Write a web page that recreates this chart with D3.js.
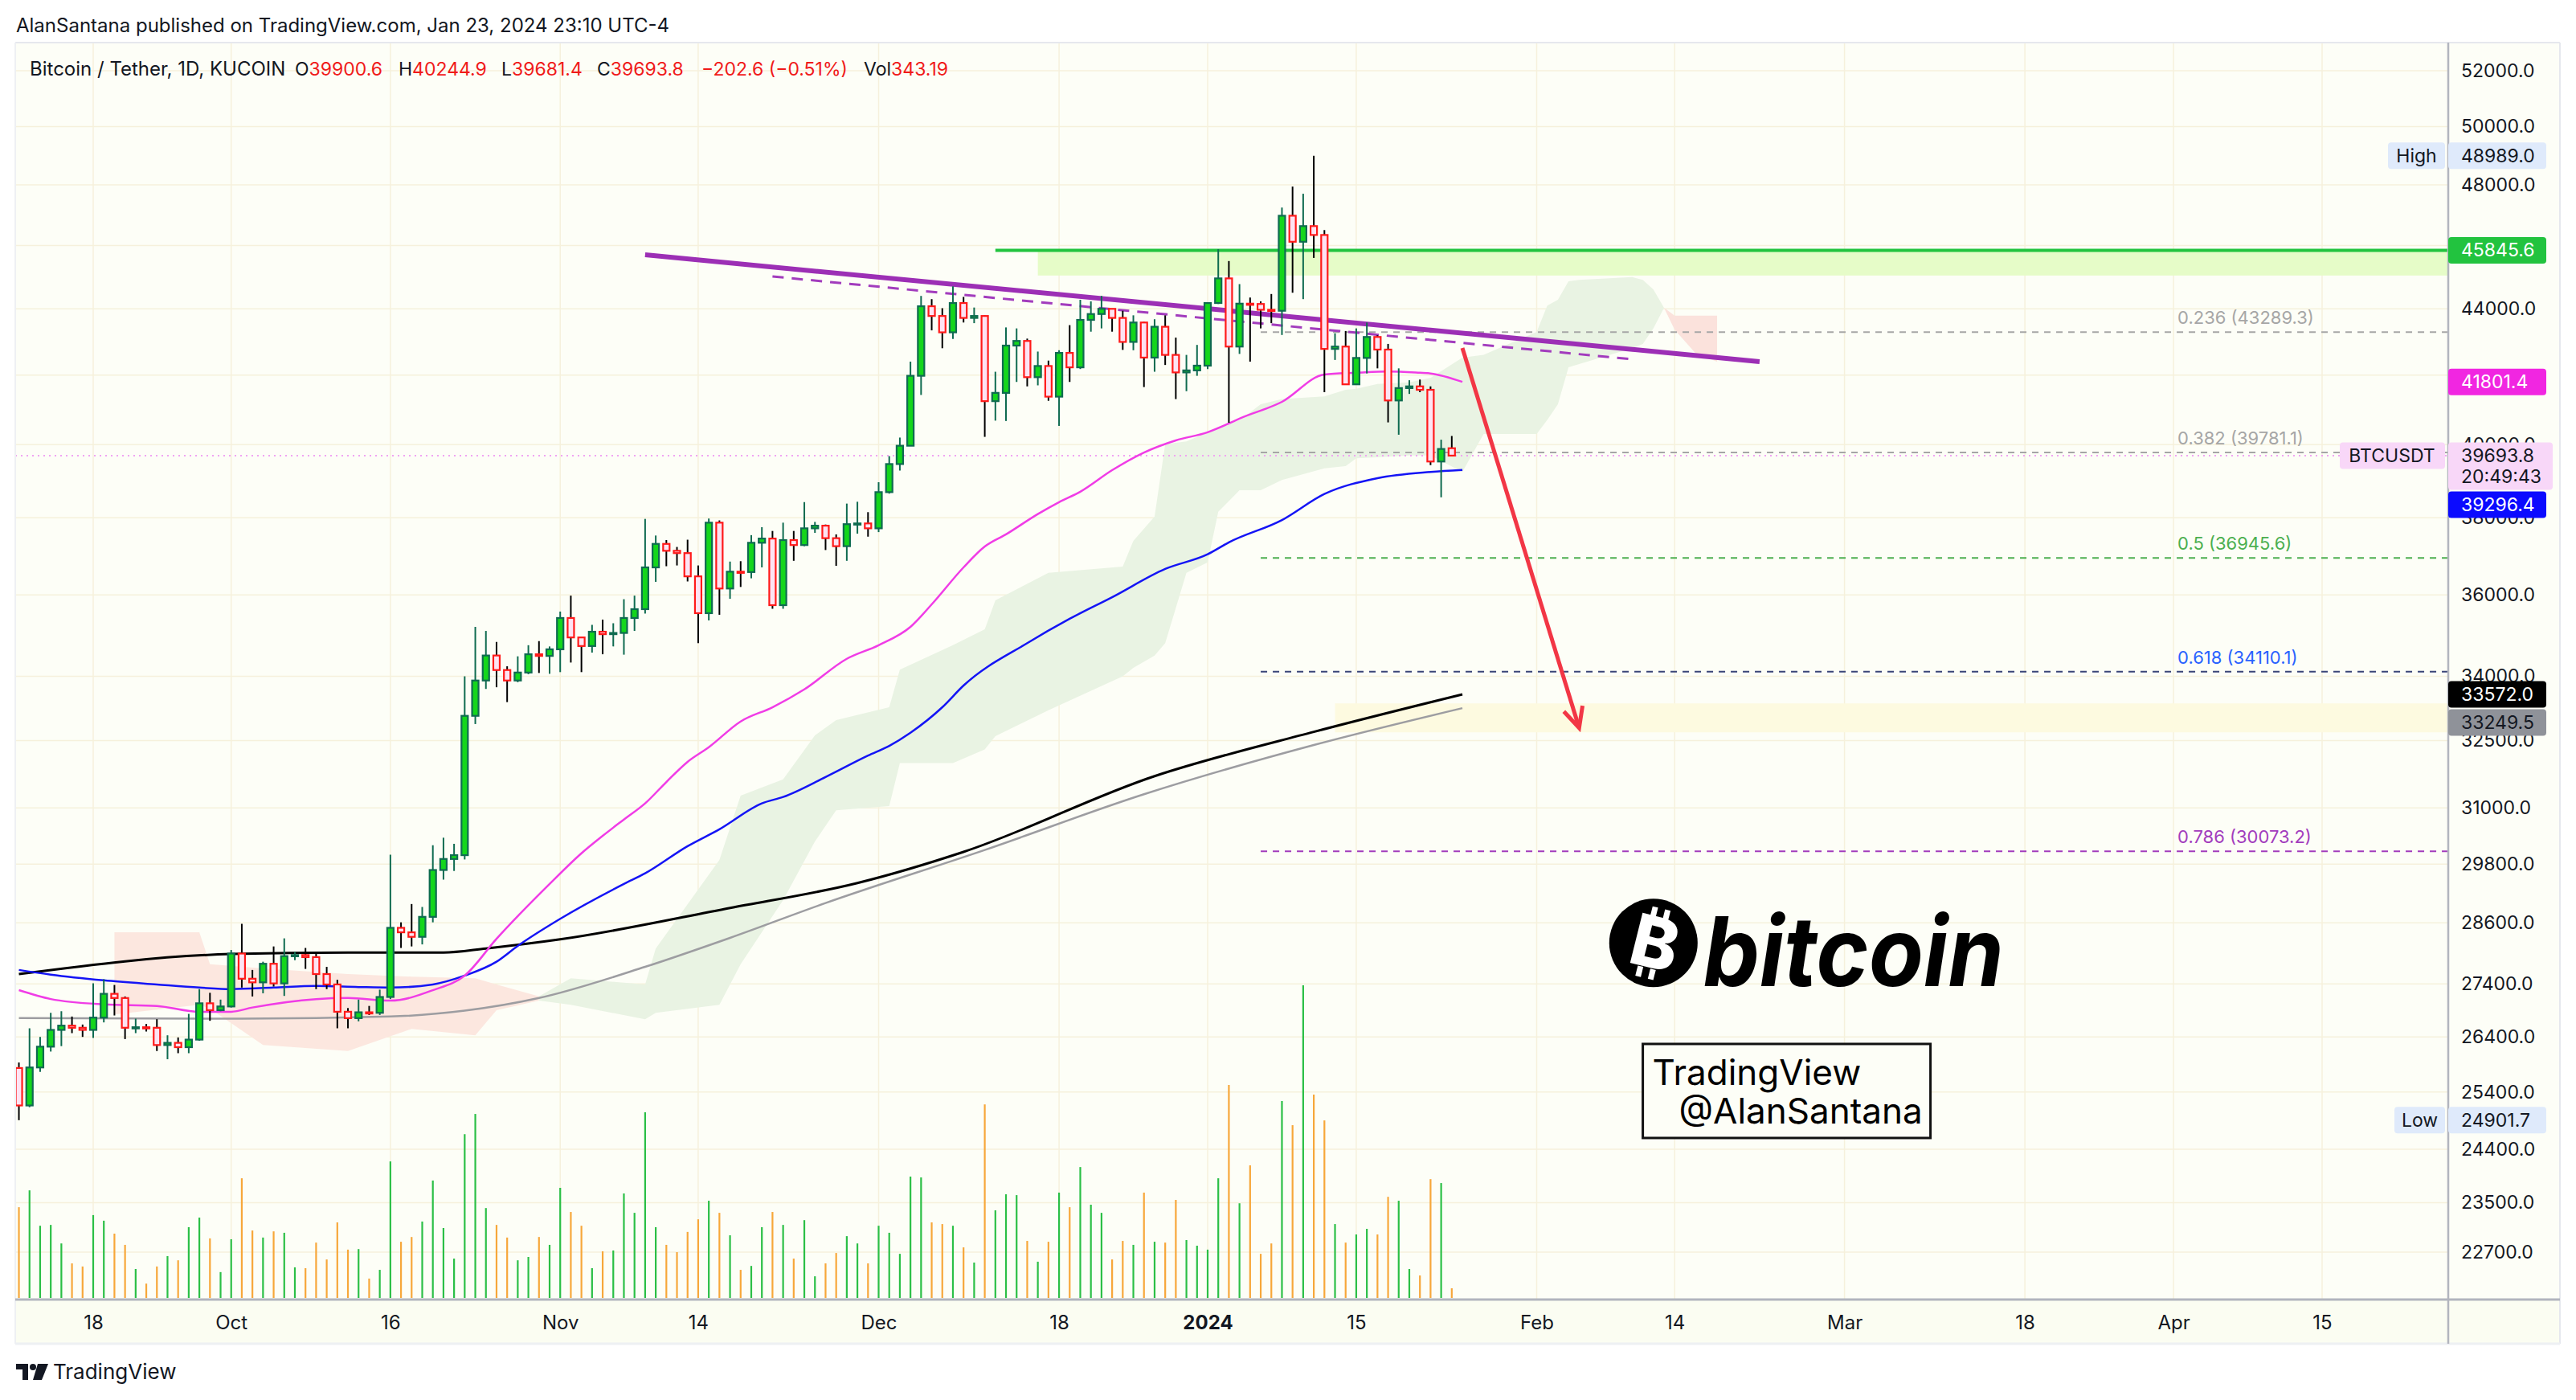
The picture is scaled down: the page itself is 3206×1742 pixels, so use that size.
<!DOCTYPE html>
<html><head><meta charset="utf-8">
<script src="https://cdn.jsdelivr.net/npm/d3@7"></script>
<style>
html,body{margin:0;padding:0;background:#fff;}
svg{display:block;}
text{font-family:Inter,"Noto Sans",sans-serif;}
</style></head><body>
<svg id="chart" width="3206" height="1742"></svg>
<script>
// ---------------- DATA ----------------
const firstDay = "2023-09-11";
const opens = [25830,25160,25840,26220,26530,26610,26570,26530,26760,27210,27130,26570,26580,26570,26250,26290,26210,26350,27030,26900,
26970,27990,27500,27430,27790,27410,27940,27960,27920,27590,27390,26870,26750,26860,26850,27150,28500,28410,28320,28720,29680,29910,29990,33070,33900,34500,34150,33900,34090,34530,34490,
34650,35420,34940,34730,35080,35020,35050,35420,35640,36700,37310,37130,37070,36470,35540,37870,36160,36590,36580,37340,37450,35740,37410,37280,37720,37790,37460,37250,37830,37850,
37720,38690,39460,39970,41980,44080,43780,43280,44180,43720,43780,41240,41480,42880,43020,41940,42270,41370,42660,42230,43660,43840,44000,43720,42990,43580,42520,43450,42600,42080,42140,
42280,44180,44950,42850,44160,44150,43970,43940,46970,46120,46630,46340,42780,42850,41730,42510,43140,42760,41260,41620,41670,41570,39530,39900.6];
const highs = [25930,26560,26400,26850,26880,26780,26630,27410,27490,27380,27160,26740,26640,26730,26430,26390,26830,27300,27230,27100,
28060,28580,27670,27830,28130,28290,28020,28100,27990,27730,27480,26940,27100,26980,27290,30000,28610,28980,28920,30200,30360,30230,34000,35200,35100,34830,34240,34480,34750,34850,34720,
35580,35980,34940,35250,35380,35290,35890,35980,37970,37530,37410,37230,37420,36750,37980,37930,36850,36860,37540,37750,37650,37870,37650,38420,37890,37820,37560,38380,38430,38150,
38960,39680,40200,42400,44400,44300,44020,44700,44370,44040,43800,42100,43430,43400,43090,42700,42430,42740,43500,44280,44230,44400,44000,43940,43800,43600,43680,43800,43120,42600,42900,
44200,45880,45500,44770,44350,44230,44460,47240,47940,47700,48989,46500,43250,43320,43400,43580,43190,42930,42200,41850,41870,41670,40140,40244.9];
const lows = [24901.7,25130,25760,26130,26230,26470,26400,26380,26670,26800,26360,26470,26500,26140,25990,26100,26100,26330,26700,26880,
26950,27330,27160,27220,27350,27170,27860,27690,27300,27300,26560,26560,26690,26810,26810,27110,28100,28130,28170,28610,29480,29660,29900,32880,33700,33740,33390,33860,34050,34080,34060,
34100,34330,34100,34570,34530,34720,34520,35100,35530,36330,36730,36750,36340,34800,35360,35500,35900,36200,36420,36700,35650,35650,36870,37250,37600,37150,36740,36870,37580,37500,
37620,38650,39280,39970,41420,43340,42800,43080,43580,43560,40220,40680,40670,41800,41670,41700,41250,40530,41800,42180,43300,43400,43300,42750,42740,41650,42100,42300,41300,41530,41980,
42180,44150,40620,42630,42400,43400,43560,43200,44500,44300,45600,41500,42450,41720,41720,42050,42200,40630,40280,41450,41500,39430,38550,39681.4];
const closes = [25160,25840,26220,26530,26610,26570,26530,26760,27210,27130,26570,26580,26570,26250,26290,26210,26350,27030,26900,26970,
27990,27500,27430,27790,27410,27940,27960,27920,27590,27390,26870,26750,26860,26850,27150,28500,28410,28320,28720,29680,29910,29990,33070,33900,34500,34150,33900,34090,34530,34490,34650,
35420,34940,34730,35080,35020,35050,35420,35640,36700,37310,37130,37070,36470,35540,37870,36160,36590,36580,37340,37450,35740,37410,37280,37720,37790,37460,37250,37830,37850,37720,
38690,39460,39970,41980,44080,43780,43280,44180,43720,43780,41240,41480,42880,43020,41940,42270,41370,42660,42230,43660,43840,44000,43720,42990,43580,42520,43450,42600,42080,42140,42280,
44180,44950,42850,44160,44150,43970,43940,46970,46120,46630,46340,42780,42850,41730,42510,43140,42760,41260,41620,41670,41570,39530,39880,39693.8];
const volumes = [3230,3830,2570,2600,1940,1230,1120,2950,2750,2290,1890,1030,510,1120,1490,1340,2520,2860,2120,920,
2090,4260,2400,2150,2370,2320,1090,1060,1970,1370,2690,1720,1740,690,1000,4860,2000,2170,2720,4180,2490,1400,5830,6550,3200,2600,2150,1340,1460,2170,1890,
3920,3060,2570,1060,1660,1690,3720,3030,6610,2520,1890,1630,2350,2800,3460,3030,2230,1000,1140,2520,3060,2600,1400,2770,770,1230,1600,2200,1940,1230,
2570,2320,1570,4320,4290,2690,2630,2570,1800,1260,6890,3120,3690,3660,2030,1290,2000,3750,3230,4660,3320,3030,1370,2030,1890,3750,2000,1970,3490,2060,1860,
1720,4260,7580,3370,4720,1570,1940,7010,6150,11130,7240,6320,2630,1970,2260,2460,2260,3600,3460,1030,800,4230,4090,343.19];

// moving averages
const maPinkDates = ["2023-09-11","2023-09-14","2023-09-19","2023-09-24","2023-09-28","2023-10-01","2023-10-03","2023-10-09","2023-10-12","2023-10-16","2023-10-20","2023-10-23","2023-10-26","2023-10-31","2023-11-03","2023-11-05","2023-11-07","2023-11-09","2023-11-11","2023-11-13","2023-11-15","2023-11-18","2023-11-21","2023-11-24","2023-11-28","2023-12-01","2023-12-04","2023-12-06","2023-12-09","2023-12-11","2023-12-13","2023-12-16","2023-12-18","2023-12-20","2023-12-23","2023-12-26","2023-12-29","2024-01-01","2024-01-03","2024-01-04","2024-01-08","2024-01-12","2024-01-15","2024-01-18","2024-01-21","2024-01-22","2024-01-25"];
const maPinkValues = [27280,27110,27010,26980,26870,26870,26950,27110,27130,27080,27280,27560,28280,29390,30030,30400,30750,31100,31570,32020,32350,32940,33270,33690,34420,34750,35200,35760,36700,37240,37560,38100,38420,38700,39290,39780,40120,40350,40600,40740,41220,42020,42070,42110,42070,42050,41801.4];
const maBlueDates = ["2023-09-11","2023-09-14","2023-09-19","2023-09-24","2023-09-28","2023-10-01","2023-10-05","2023-10-09","2023-10-13","2023-10-16","2023-10-20","2023-10-23","2023-10-26","2023-10-28","2023-11-01","2023-11-07","2023-11-09","2023-11-13","2023-11-16","2023-11-20","2023-11-22","2023-11-26","2023-11-30","2023-12-02","2023-12-04","2023-12-07","2023-12-09","2023-12-15","2023-12-19","2023-12-23","2023-12-28","2024-01-01","2024-01-03","2024-01-08","2024-01-12","2024-01-17","2024-01-22","2024-01-25"];
const maBlueValues = [27670,27580,27470,27390,27330,27300,27330,27360,27340,27330,27390,27560,27830,28140,28680,29390,29610,30180,30540,31100,31240,31680,32160,32380,32680,33270,33780,34800,35400,35940,36660,37040,37350,37940,38640,39070,39240,39296.4];
const maBlackDates = ["2023-09-11","2023-10-01","2023-10-12","2023-10-21","2023-10-25","2023-11-01","2023-11-17","2023-11-29","2023-12-09","2023-12-27","2024-01-11","2024-01-25"];
const maBlackValues = [27590,27980,28010,28010,28090,28270,28900,29410,30060,31700,32700,33572.0];
const maGrayDates = ["2023-09-11","2023-10-02","2023-10-16","2023-10-23","2023-10-30","2023-11-09","2023-11-17","2023-11-26","2023-12-11","2023-12-26","2024-01-11","2024-01-25"];
const maGrayValues = [26750,26740,26780,26890,27130,27730,28300,29000,30100,31300,32400,33249.5];

// ichimoku cloud (sampled)
const cloudBear1Dates = ["2023-09-20","2023-09-28","2023-09-29","2023-10-04","2023-10-12","2023-10-18","2023-10-24","2023-10-26","2023-10-30"];
const cloudBear1Upper = [28410,28410,27780,27700,27590,27540,27510,27390,27160];
const cloudBear1Lower = [26820,27000,26930,26250,26140,26550,26430,26900,27080];
const cloudBullDates = ["2023-10-30","2023-11-02","2023-11-09","2023-11-10","2023-11-16","2023-11-18","2023-11-22","2023-11-25","2023-11-27","2023-12-02","2023-12-03","2023-12-08","2023-12-11","2023-12-12","2023-12-17","2023-12-24","2023-12-25","2023-12-27","2023-12-28","2023-12-30","2024-01-01","2024-01-02","2024-01-04","2024-01-06","2024-01-08","2024-01-12","2024-01-14","2024-01-15","2024-01-17","2024-01-20","2024-01-22","2024-01-25","2024-01-27","2024-02-01","2024-02-02","2024-02-03","2024-02-04","2024-02-05","2024-02-10","2024-02-11","2024-02-12","2024-02-13"];
const cloudBullUpper = [27160,27510,27390,28090,29890,31270,31630,32620,32970,33270,34160,34750,35140,35860,36560,36720,37390,38030,40010,40090,40340,40500,40690,41150,41300,41380,41570,41600,41740,41790,41920,42520,42600,43290,44100,44280,44860,44900,44990,44900,44600,44030];
const cloudBullLower = [27080,27000,26730,26850,27000,27780,29060,30280,30950,31040,31990,31990,32300,32600,33200,34000,34200,34500,34800,36560,36830,38160,38740,38740,39020,39340,39400,39620,39650,39700,39700,39240,40300,40300,40700,41150,42230,42330,42800,42930,43400,44030];
const cloudBear2Dates = ["2024-02-13","2024-02-14","2024-02-16","2024-02-18"];
const cloudBear2Upper = [44030,43790,43790,43790];
const cloudBear2Lower = [44030,43360,42640,42400];

// drawings
const resistanceLevel = 45845.6;
const resistanceZoneLow = 45040;
const resistanceStart = "2023-12-12";
const resistanceZoneStart = "2023-12-16";
const targetZoneHigh = 33360, targetZoneLow = 32690, targetZoneStart = "2024-01-13";
const trendSolid = [["2023-11-09",45700],["2024-02-22",42400]];
const trendDashed = [["2023-11-21",45010],["2024-02-10",42470]];
const arrowPts = [["2024-01-25",42810],["2024-02-05",32790]];
const fibStart = "2024-01-06";
const fibLabelDate = "2024-04-01";
const fibRatios = ["0.236","0.382","0.5","0.618","0.786"];
const fibValues = [43289.3,39781.1,36945.6,34110.1,30073.2];

// axes
const gridPrices = [52000,50000,48000,46000,44000,42000,40000,38000,36000,34000,32500,31000,29800,28600,27400,26400,25400,24400,23500,22700];
const priceTicks = [52000,50000,48000,44000,40000,38000,36000,34000,32500,31000,29800,28600,27400,26400,25400,24400,23500,22700];
const timeTickDates = ["2023-09-18","2023-10-01","2023-10-16","2023-11-01","2023-11-14","2023-12-01","2023-12-18","2024-01-01","2024-01-15","2024-02-01","2024-02-14","2024-03-01","2024-03-18","2024-04-01","2024-04-15"];
const timeTickLabels = ["18","Oct","16","Nov","14","Dec","18","2024","15","Feb","14","Mar","18","Apr","15"];

// right-axis tags
const tagValues = [45845.6,41801.4,39693.8,39296.4,33572.0,33249.5];
const tagNames = ["","","BTCUSDT","","",""];
const tagSubs = ["","","20:49:43","","",""];
const highValue = 48989.0, lowValue = 24901.7;

// legend
const legendTitle = "Bitcoin / Tether, 1D, KUCOIN";
const legendKeys = ["O","H","L","C","","Vol"];
const legendVals = ["39900.6","40244.9","39681.4","39693.8","\u2212202.6 (\u22120.51%)","343.19"];

// ---------------- STYLES / LAYOUT ----------------
const W=3206,H=1742,L=19,R=3047,T=53,B=1617,AX=3186,TB=1672;
const tagBg = ["#22c33f","#f126e1","#f8d7f8","#0b0bff","#000000","#8f9299"];
const tagFg = ["#ffffff","#ffffff","#131722","#ffffff","#ffffff","#131722"];
const fibLineColors = ["#a6a6a6","#a6a6a6","#4caf50","#3a4578","#a23cbd"];
const fibTextColors = ["#a6a6a6","#a6a6a6","#4caf50","#2962ff","#a23cbd"];

const parse = d3.utcParse("%Y-%m-%d");
const day0 = parse(firstDay);
const dates = opens.map((_,i)=>d3.utcDay.offset(day0,i));
const bars = dates.map((d,i)=>({d,o:opens[i],h:highs[i],l:lows[i],c:closes[i],v:volumes[i]}));

const x = d3.scaleUtc().domain([parse("2023-09-18"),parse("2024-04-15")]).range([116,2890]);
const y = d3.scaleLog().domain([22700,52000]).range([1558,88]);
const yv = d3.scaleLinear().domain([0,11130]).range([1615,1226]);

const svg = d3.select("#chart");
svg.append("rect").attr("width",W).attr("height",H).attr("fill","#ffffff");
svg.append("rect").attr("x",L).attr("y",T).attr("width",AX-L).attr("height",TB-T).attr("fill","#fdfef7");
svg.append("rect").attr("x",L).attr("y",B).attr("width",AX-L).attr("height",TB-B).attr("fill","#fbfdf2");

const defs = svg.append("defs");
defs.append("clipPath").attr("id","plotclip").append("rect").attr("x",L).attr("y",T).attr("width",R-L).attr("height",B-T);

// grid
const grid = svg.append("g").attr("clip-path","url(#plotclip)");
grid.selectAll("line.v").data(timeTickDates).join("line")
  .attr("x1",d=>x(parse(d))).attr("x2",d=>x(parse(d))).attr("y1",T).attr("y2",B)
  .attr("stroke","#f6f1dc").attr("stroke-width",1.5);
grid.selectAll("line.h").data(gridPrices).join("line")
  .attr("x1",L).attr("x2",R).attr("y1",d=>y(d)).attr("y2",d=>y(d))
  .attr("stroke","#f6f1dc").attr("stroke-width",1.5);

const plot = svg.append("g").attr("clip-path","url(#plotclip)");

// cloud
function cloud(ds,up,lo,fill){
  const pts = ds.map((d,i)=>({d:parse(d),u:up[i],l:lo[i]}));
  plot.append("path").datum(pts)
    .attr("d",d3.area().x(p=>x(p.d)).y0(p=>y(p.l)).y1(p=>y(p.u)))
    .attr("fill",fill);
}
cloud(cloudBear1Dates,cloudBear1Upper,cloudBear1Lower,"#fce7df");
cloud(cloudBullDates,cloudBullUpper,cloudBullLower,"#e9f3e3");
cloud(cloudBear2Dates,cloudBear2Upper,cloudBear2Lower,"#fbe2dc");

// zones
plot.append("rect").attr("x",x(parse(resistanceZoneStart))).attr("y",y(resistanceLevel))
  .attr("width",R-x(parse(resistanceZoneStart))).attr("height",y(resistanceZoneLow)-y(resistanceLevel)).attr("fill","#e6fcc8");
plot.append("rect").attr("x",x(parse(targetZoneStart))).attr("y",y(targetZoneHigh))
  .attr("width",R-x(parse(targetZoneStart))).attr("height",y(targetZoneLow)-y(targetZoneHigh)).attr("fill","#fdfae0");
plot.append("line").attr("x1",x(parse(resistanceStart))).attr("x2",R)
  .attr("y1",y(resistanceLevel)).attr("y2",y(resistanceLevel)).attr("stroke","#22c33f").attr("stroke-width",4);

// volumes
plot.selectAll("line.vol").data(bars).join("line")
  .attr("x1",b=>x(b.d)).attr("x2",b=>x(b.d)).attr("y1",yv(0)).attr("y2",b=>yv(b.v))
  .attr("stroke",b=>b.c>=b.o?"#2bbf46":"#f7a73a").attr("stroke-width",2.2);

// fib levels
fibValues.forEach((v,i)=>{
  plot.append("line").attr("x1",x(parse(fibStart))).attr("x2",R).attr("y1",y(v)).attr("y2",y(v))
    .attr("stroke",fibLineColors[i]).attr("stroke-width",2).attr("stroke-dasharray","8,7");
  plot.append("text").attr("x",x(parse(fibLabelDate))+5).attr("y",y(v)-10)
    .attr("font-size",22).attr("fill",fibTextColors[i]).text(`${fibRatios[i]} (${v.toFixed(1)})`);
});

// current price line
plot.append("line").attr("x1",L).attr("x2",R).attr("y1",y(closes[closes.length-1])).attr("y2",y(closes[closes.length-1]))
  .attr("stroke","#f0a4f2").attr("stroke-width",2).attr("stroke-dasharray","2,5");

// moving averages
function ma(ds,vs,color,w){
  const pts = ds.map((d,i)=>({d:parse(d),v:vs[i]}));
  plot.append("path").datum(pts)
    .attr("d",d3.line().x(p=>x(p.d)).y(p=>y(p.v)).curve(d3.curveMonotoneX))
    .attr("fill","none").attr("stroke",color).attr("stroke-width",w);
}
ma(maGrayDates,maGrayValues,"#9d9da1",2.5);
ma(maBlackDates,maBlackValues,"#000000",3);
ma(maBlueDates,maBlueValues,"#1414f5",2.5);
ma(maPinkDates,maPinkValues,"#f03ce6",2.5);

// trend lines
function seg(pts,color,w,dash){
  plot.append("line").attr("x1",x(parse(pts[0][0]))).attr("y1",y(pts[0][1]))
    .attr("x2",x(parse(pts[1][0]))).attr("y2",y(pts[1][1]))
    .attr("stroke",color).attr("stroke-width",w).attr("stroke-dasharray",dash||null);
}
seg(trendDashed,"#a23cbd",3,"14,10");
seg(trendSolid,"#9c2fb5",6);

// candles
const cg = plot.append("g");
cg.selectAll("line.wick").data(bars).join("line")
  .attr("x1",b=>x(b.d)).attr("x2",b=>x(b.d)).attr("y1",b=>y(b.h)).attr("y2",b=>y(b.l))
  .attr("stroke",b=>b.c>=b.o?"#0f6b50":"#000000").attr("stroke-width",2);
cg.selectAll("rect.body").data(bars).join("rect")
  .attr("x",b=>x(b.d)-4).attr("width",8)
  .attr("y",b=>y(Math.max(b.o,b.c)))
  .attr("height",b=>Math.max(1.5,Math.abs(y(b.o)-y(b.c))))
  .attr("fill",b=>b.c>=b.o?"#14d61c":"#fde3f3")
  .attr("stroke",b=>b.c>=b.o?"#0f6b50":"#ff1a1a").attr("stroke-width",2.2);

// arrow
{
  const x1=x(parse(arrowPts[0][0])),y1=y(arrowPts[0][1]),x2=x(parse(arrowPts[1][0])),y2=y(arrowPts[1][1]);
  const a=Math.atan2(y2-y1,x2-x1), len=28, sp=0.45;
  plot.append("line").attr("x1",x1).attr("y1",y1).attr("x2",x2).attr("y2",y2).attr("stroke","#f23645").attr("stroke-width",5);
  plot.append("path").attr("d",`M${x2-len*Math.cos(a-sp)},${y2-len*Math.sin(a-sp)}L${x2},${y2}L${x2-len*Math.cos(a+sp)},${y2-len*Math.sin(a+sp)}`)
    .attr("fill","none").attr("stroke","#f23645").attr("stroke-width",5).attr("stroke-linejoin","miter");
}

// bitcoin logo (annotation anchored at a date/price)
{
  const cx=x(parse("2024-02-12")), cy=y(28200);
  const lg=plot.append("g");
  lg.append("circle").attr("cx",cx).attr("cy",cy).attr("r",55).attr("fill","#000");
  const bg=lg.append("g").attr("transform",`translate(${cx},${cy}) rotate(14)`);
  bg.append("text").attr("x",2).attr("y",31).attr("text-anchor","middle").attr("font-size",88)
    .attr("font-weight",800).attr("fill","#fff").attr("font-family","'Open Sans',sans-serif").text("B");
  [[-12,-44],[4,-44],[-12,32],[4,32]].forEach(p=>bg.append("rect").attr("x",p[0]).attr("y",p[1]).attr("width",7).attr("height",13).attr("fill","#fff"));
  lg.append("text").attr("x",cx+62).attr("y",cy+54).attr("font-size",120).attr("font-weight",700)
    .attr("font-style","italic").attr("font-family","'Open Sans',sans-serif").attr("fill","#000")
    .attr("textLength",374).attr("lengthAdjust","spacingAndGlyphs").text("bitcoin");
}
// signature box
{
  const bx=x(parse("2024-02-11")), by=y(26270);
  plot.append("rect").attr("x",bx).attr("y",by).attr("width",358).attr("height",117)
    .attr("fill","#fdfef7").attr("stroke","#111").attr("stroke-width",3);
  plot.append("text").attr("x",bx+12).attr("y",by+51).attr("font-size",44).attr("fill","#000").text("TradingView");
  plot.append("text").attr("x",bx+45).attr("y",by+99).attr("font-size",44).attr("fill","#000").text("@AlanSantana");
}

// borders
svg.append("line").attr("x1",L).attr("x2",AX).attr("y1",T).attr("y2",T).attr("stroke","#e6e8ee").attr("stroke-width",2);
svg.append("line").attr("x1",L).attr("x2",L).attr("y1",T).attr("y2",TB).attr("stroke","#eef0f3").attr("stroke-width",2);
svg.append("line").attr("x1",AX).attr("x2",AX).attr("y1",T).attr("y2",TB).attr("stroke","#e6e8ee").attr("stroke-width",2);
svg.append("line").attr("x1",L).attr("x2",AX).attr("y1",TB).attr("y2",TB).attr("stroke","#eef0f3").attr("stroke-width",3);
svg.append("line").attr("x1",L).attr("x2",AX).attr("y1",B).attr("y2",B).attr("stroke","#b2b5be").attr("stroke-width",3);
svg.append("line").attr("x1",R).attr("x2",R).attr("y1",T).attr("y2",TB).attr("stroke","#b2b5be").attr("stroke-width",2.5);

// price axis
const pa = svg.append("g").attr("transform",`translate(${R},0)`)
  .call(d3.axisRight(y).tickValues(priceTicks).tickFormat(d3.format(".1f")).tickSize(0).tickPadding(16));
pa.select(".domain").remove();
pa.selectAll("text").attr("font-size",23).attr("fill","#131722").attr("font-family","Inter,'Noto Sans',sans-serif");

// time axis
const ta = svg.append("g").attr("transform",`translate(0,${B})`)
  .call(d3.axisBottom(x).tickValues(timeTickDates.map(parse)).tickFormat((d,i)=>timeTickLabels[i]).tickSize(0).tickPadding(20));
ta.select(".domain").remove();
ta.selectAll("text").attr("font-size",24).attr("fill","#131722").attr("font-family","Inter,'Noto Sans',sans-serif")
  .attr("font-weight",(d,i)=>timeTickLabels[i]==="2024"?700:400);

// tags
function box(x0,x1,yc,h,bg){
  svg.append("rect").attr("x",x0).attr("y",yc-h/2).attr("width",x1-x0).attr("height",h).attr("rx",4).attr("fill",bg);
}
let prevBottom=-1e9;
tagValues.forEach((v,i)=>{
  let yc=y(v);
  const extra = tagSubs[i]?26:0;
  let top=yc-16.5;
  if(top<prevBottom+2){ yc += prevBottom+2-top; top=yc-16.5; }
  prevBottom = yc+16.5+extra;
  svg.append("rect").attr("x",R).attr("y",top).attr("width",(tagSubs[i]?130:122)).attr("height",33+extra).attr("rx",4).attr("fill",tagBg[i]);
  svg.append("text").attr("x",R+16).attr("y",yc+8).attr("font-size",23).attr("fill",tagFg[i]).text(v.toFixed(1));
  if(tagSubs[i]) svg.append("text").attr("x",R+16).attr("y",yc+34).attr("font-size",23).attr("fill",tagFg[i]).text(tagSubs[i]);
  if(tagNames[i]){
    box(2912,3043,y(v),33,tagBg[i]);
    svg.append("text").attr("x",2977).attr("y",y(v)+8).attr("text-anchor","middle").attr("font-size",23).attr("fill",tagFg[i]).text(tagNames[i]);
  }
});
[[highValue,"High",2972],[lowValue,"Low",2980]].forEach(([v,n,x0])=>{
  box(x0,3043,y(v),33,"#dfeafb");
  box(R,R+122,y(v),33,"#dfeafb");
  svg.append("text").attr("x",(x0+3043)/2).attr("y",y(v)+8).attr("text-anchor","middle").attr("font-size",23).attr("fill","#131722").text(n);
  svg.append("text").attr("x",R+16).attr("y",y(v)+8).attr("font-size",23).attr("fill","#131722").text(v.toFixed(1));
});

// header & legend
svg.append("text").attr("x",20).attr("y",40).attr("font-size",24).attr("fill","#131722")
  .text("AlanSantana published on TradingView.com, Jan 23, 2024 23:10 UTC-4");
const legX=[367,496,624,743,873,1075];
svg.append("text").attr("x",37).attr("y",94).attr("font-size",24).attr("fill","#131722").text(legendTitle);
legendKeys.forEach((k,i)=>{
  const t=svg.append("text").attr("x",legX[i]).attr("y",94).attr("font-size",23);
  t.append("tspan").attr("fill","#131722").text(k);
  t.append("tspan").attr("fill","#f01a1a").text(legendVals[i]);
});

// TradingView footer logo
{
  const lg=svg.append("g").attr("fill","#131722");
  lg.append("path").attr("d","M20,1697H35V1717H28V1704H20Z");
  lg.append("circle").attr("cx",41).attr("cy",1701).attr("r",4);
  lg.append("path").attr("d","M47,1697H60L52,1717H41Z");
  svg.append("text").attr("x",66).attr("y",1716).attr("font-size",26).attr("fill","#131722").text("TradingView");
}
</script>
</body></html>
